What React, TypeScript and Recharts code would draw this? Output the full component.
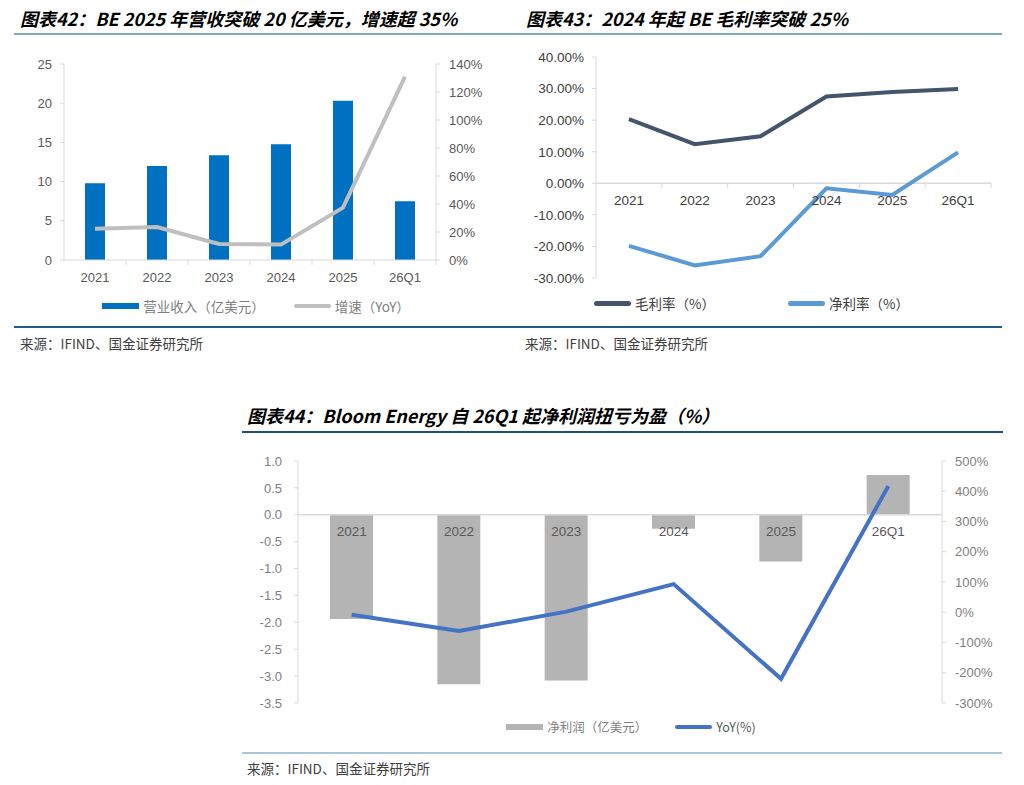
import { Bar, ComposedChart, Legend, Line, LineChart, ReferenceLine, XAxis, YAxis } from 'recharts';

const categories = ['2021', '2022', '2023', '2024', '2025', '26Q1'];

// 图表42
const revenue = [9.8, 12.0, 13.35, 14.76, 20.3, 7.5];
const revenueYoY = [22.4, 23.6, 11.4, 11.0, 37.4, 131];
const revenueTicks = [0, 5, 10, 15, 20, 25];
const revenueYoYTicks = [0, 20, 40, 60, 80, 100, 120, 140];

// 图表43
const grossMargin = [20.3, 12.4, 14.9, 27.5, 28.9, 29.9];
const netMargin = [-19.8, -26.0, -23.1, -1.6, -3.7, 9.8];
const marginTicks = [-30, -20, -10, 0, 10, 20, 30, 40];

// 图表44
const netProfit = [-1.94, -3.15, -3.08, -0.26, -0.87, 0.74];
const netProfitYoY = [-8, -62, 2, 93, -220, 417];
const profitTicks = [-3.5, -3, -2.5, -2, -1.5, -1, -0.5, 0, 0.5, 1];
const profitYoYTicks = [-300, -200, -100, 0, 100, 200, 300, 400, 500];

const revenueData = categories.map((name, i) => ({ name, revenue: revenue[i], yoy: revenueYoY[i] }));
const marginData = categories.map((name, i) => ({ name, gross: grossMargin[i], net: netMargin[i] }));
const profitData = categories.map((name, i) => ({ name, profit: netProfit[i], yoy: netProfitYoY[i] }));

const LATIN = '"Liberation Sans", Arial, sans-serif';
const CJK = '"Noto Sans CJK SC", sans-serif';
const AXIS_GRAY = '#d9d9d9';

type LegendItem = { label: string; color: string; kind: 'rect' | 'line'; textColor: string; thick: number };

function legendContent(items: LegendItem[], gap: number, fontSize: number) {
  return () => (
    <div style={{ height: 20, display: 'flex', justifyContent: 'center', alignItems: 'center', gap }}>
      {items.map((it) => (
        <div key={it.label} style={{ display: 'flex', alignItems: 'center', gap: 4 }}>
          <div
            style={{
              width: 37,
              height: it.thick,
              background: it.color,
              borderRadius: it.kind === 'line' ? it.thick / 2 : 0,
            }}
          />
          <span style={{ fontFamily: CJK, fontSize, color: it.textColor, lineHeight: '20px', whiteSpace: 'nowrap' }}>
            {it.label}
          </span>
        </div>
      ))}
    </div>
  );
}

// x 轴标签画在 0 线下方（Excel 风格）
function categoryTick(opts: {
  band: number;
  zeroShift: number;
  labelOffset: number;
  fontSize: number;
  fill: string;
  marks: boolean;
}) {
  return (props: any) => {
    const { x, y, payload } = props;
    const zeroY = y - opts.zeroShift;
    return (
      <g>
        {opts.marks ? (
          <line x1={x + opts.band / 2} x2={x + opts.band / 2} y1={zeroY} y2={zeroY + 5} stroke={AXIS_GRAY} />
        ) : null}
        <text
          x={x}
          y={zeroY + opts.labelOffset}
          textAnchor="middle"
          fontFamily={LATIN}
          fontSize={opts.fontSize}
          fill={opts.fill}
        >
          {payload.value}
        </text>
      </g>
    );
  };
}

function RevenueChart() {
  return (
    <ComposedChart width={512} height={270} data={revenueData} margin={{ top: 14, right: 0, bottom: 4, left: 0 }}>
      <XAxis
        dataKey="name"
        height={36}
        axisLine={{ stroke: AXIS_GRAY }}
        tickLine={false}
        tickSize={0}
        tickMargin={0}
        interval={0}
        tick={categoryTick({ band: 62, zeroShift: 0, labelOffset: 22, fontSize: 13, fill: '#595959', marks: true })}
      />
      <YAxis
        yAxisId="left"
        width={64}
        domain={[0, 25]}
        ticks={revenueTicks}
        interval={0}
        axisLine={{ stroke: AXIS_GRAY }}
        tickLine={{ stroke: AXIS_GRAY }}
        tickSize={4}
        tickMargin={8}
        tick={{ fill: '#595959', fontSize: 13, fontFamily: LATIN }}
      />
      <YAxis
        yAxisId="right"
        orientation="right"
        width={76}
        domain={[0, 140]}
        ticks={revenueYoYTicks}
        interval={0}
        tickFormatter={(v) => `${v}%`}
        axisLine={{ stroke: AXIS_GRAY }}
        tickLine={{ stroke: AXIS_GRAY }}
        tickSize={4}
        tickMargin={9}
        tick={{ fill: '#595959', fontSize: 13, fontFamily: LATIN }}
      />
      <Bar yAxisId="left" dataKey="revenue" barSize={20} fill="#0070c0" isAnimationActive={false} />
      <Line
        yAxisId="right"
        type="linear"
        dataKey="yoy"
        stroke="#bfbfbf"
        strokeWidth={4}
        dot={false}
        isAnimationActive={false}
      />
      <Legend
        verticalAlign="bottom"
        content={legendContent(
          [
            { label: '营业收入（亿美元）', color: '#0070c0', kind: 'rect', textColor: '#7f7f7f', thick: 6 },
            { label: '增速（YoY）', color: '#bfbfbf', kind: 'line', textColor: '#7f7f7f', thick: 4 },
          ],
          29,
          13.5,
        )}
      />
    </ComposedChart>
  );
}

function MarginChart() {
  const plotH = 276 - 17 - 3 - 20 - 15;
  const band = 395 / 6;
  return (
    <LineChart width={512} height={276} data={marginData} margin={{ top: 17, right: 33, bottom: 3, left: 0 }}>
      <YAxis
        width={84}
        domain={[-30, 40]}
        ticks={marginTicks}
        interval={0}
        tickFormatter={(v) => `${v.toFixed(2)}%`}
        axisLine={{ stroke: AXIS_GRAY }}
        tickLine={{ stroke: AXIS_GRAY }}
        tickSize={4}
        tickMargin={8}
        tick={{ fill: '#404040', fontSize: 13.5, fontFamily: LATIN }}
      />
      <ReferenceLine y={0} stroke={AXIS_GRAY} strokeWidth={1.5} />
      <Line type="linear" dataKey="gross" stroke="#44546a" strokeWidth={4} dot={false} isAnimationActive={false} />
      <Line type="linear" dataKey="net" stroke="#5b9bd5" strokeWidth={4} dot={false} isAnimationActive={false} />
      <XAxis
        dataKey="name"
        height={15}
        padding={{ left: band / 2, right: band / 2 }}
        axisLine={false}
        tickLine={false}
        tickSize={0}
        tickMargin={0}
        interval={0}
        tick={categoryTick({
          band,
          zeroShift: (plotH * 30) / 70,
          labelOffset: 21.5,
          fontSize: 13.5,
          fill: '#404040',
          marks: true,
        })}
      />
      <Legend
        verticalAlign="bottom"
        content={legendContent(
          [
            { label: '毛利率（%）', color: '#44546a', kind: 'line', textColor: '#404040', thick: 5 },
            { label: '净利率（%）', color: '#5b9bd5', kind: 'line', textColor: '#404040', thick: 5 },
          ],
          73,
          13.5,
        )}
      />
    </LineChart>
  );
}

function ProfitChart() {
  const plotH = 300 - 21 - 3 - 20 - 14;
  return (
    <ComposedChart width={782} height={300} data={profitData} margin={{ top: 21, right: 0, bottom: 3, left: 0 }}>
      <YAxis
        yAxisId="left"
        width={58}
        domain={[-3.5, 1]}
        ticks={profitTicks}
        interval={0}
        tickFormatter={(v) => v.toFixed(1)}
        axisLine={{ stroke: AXIS_GRAY }}
        tickLine={{ stroke: AXIS_GRAY }}
        tickSize={4}
        tickMargin={12}
        tick={{ fill: '#7f7f7f', fontSize: 13, fontFamily: LATIN }}
      />
      <YAxis
        yAxisId="right"
        orientation="right"
        width={80}
        domain={[-300, 500]}
        ticks={profitYoYTicks}
        interval={0}
        tickFormatter={(v) => `${v}%`}
        axisLine={{ stroke: AXIS_GRAY }}
        tickLine={{ stroke: AXIS_GRAY }}
        tickSize={4}
        tickMargin={9}
        tick={{ fill: '#7f7f7f', fontSize: 13, fontFamily: LATIN }}
      />
      <ReferenceLine yAxisId="left" y={0} stroke={AXIS_GRAY} strokeWidth={1.5} />
      <Bar yAxisId="left" dataKey="profit" barSize={43} fill="#b4b4b4" isAnimationActive={false} />
      <XAxis
        dataKey="name"
        height={14}
        axisLine={false}
        tickLine={false}
        tickSize={0}
        tickMargin={0}
        interval={0}
        tick={categoryTick({
          band: 644 / 6,
          zeroShift: (plotH * 3.5) / 4.5,
          labelOffset: 21,
          fontSize: 13.5,
          fill: '#595959',
          marks: false,
        })}
      />
      <Line
        yAxisId="right"
        type="linear"
        dataKey="yoy"
        stroke="#4472c4"
        strokeWidth={4}
        dot={false}
        isAnimationActive={false}
      />
      <Legend
        verticalAlign="bottom"
        content={legendContent(
          [
            { label: '净利润（亿美元）', color: '#b4b4b4', kind: 'rect', textColor: '#7f7f7f', thick: 6 },
            { label: 'YoY(%)', color: '#4472c4', kind: 'line', textColor: '#595959', thick: 4 },
          ],
          28,
          12.5,
        )}
      />
    </ComposedChart>
  );
}

const titleStyle = {
  position: 'absolute' as const,
  fontFamily: CJK,
  fontStyle: 'italic',
  fontWeight: 700,
  fontSize: 18,
  lineHeight: '20px',
  color: '#000',
  whiteSpace: 'nowrap' as const,
};

const sourceStyle = {
  position: 'absolute' as const,
  fontFamily: CJK,
  fontSize: 13.5,
  lineHeight: '16px',
  color: '#404040',
  whiteSpace: 'nowrap' as const,
};

function HLine({ x, y, w, color }: { x: number; y: number; w: number; color: string }) {
  return <div style={{ position: 'absolute', left: x, top: y, width: w, height: 2, background: color }} />;
}

export default function App() {
  return (
    <div style={{ position: 'absolute', left: 0, top: 0, width: 1024, height: 785, background: '#fff', overflow: 'hidden' }}>
      <div style={{ ...titleStyle, left: 20, top: 8 }}>图表42：BE 2025 年营收突破 20 亿美元，增速超 35%</div>
      <div style={{ ...titleStyle, left: 526, top: 8 }}>图表43：2024 年起 BE 毛利率突破 25%</div>
      <HLine x={14} y={33} w={988} color="#7fa8c9" />

      <div style={{ position: 'absolute', left: 0, top: 50 }}>
        <RevenueChart />
      </div>
      <div style={{ position: 'absolute', left: 512, top: 40 }}>
        <MarginChart />
      </div>

      <HLine x={14} y={326} w={988} color="#1f5c86" />
      <div style={{ ...sourceStyle, left: 20, top: 335 }}>来源：IFIND、国金证券研究所</div>
      <div style={{ ...sourceStyle, left: 525, top: 335 }}>来源：IFIND、国金证券研究所</div>

      <div style={{ ...titleStyle, left: 247, top: 405 }}>图表44：Bloom Energy 自 26Q1 起净利润扭亏为盈（%）</div>
      <HLine x={242} y={431} w={761} color="#1f4e79" />

      <div style={{ position: 'absolute', left: 240, top: 440 }}>
        <ProfitChart />
      </div>

      <HLine x={242} y={752} w={760} color="#a9c4d6" />
      <div style={{ ...sourceStyle, left: 247, top: 760 }}>来源：IFIND、国金证券研究所</div>
    </div>
  );
}
